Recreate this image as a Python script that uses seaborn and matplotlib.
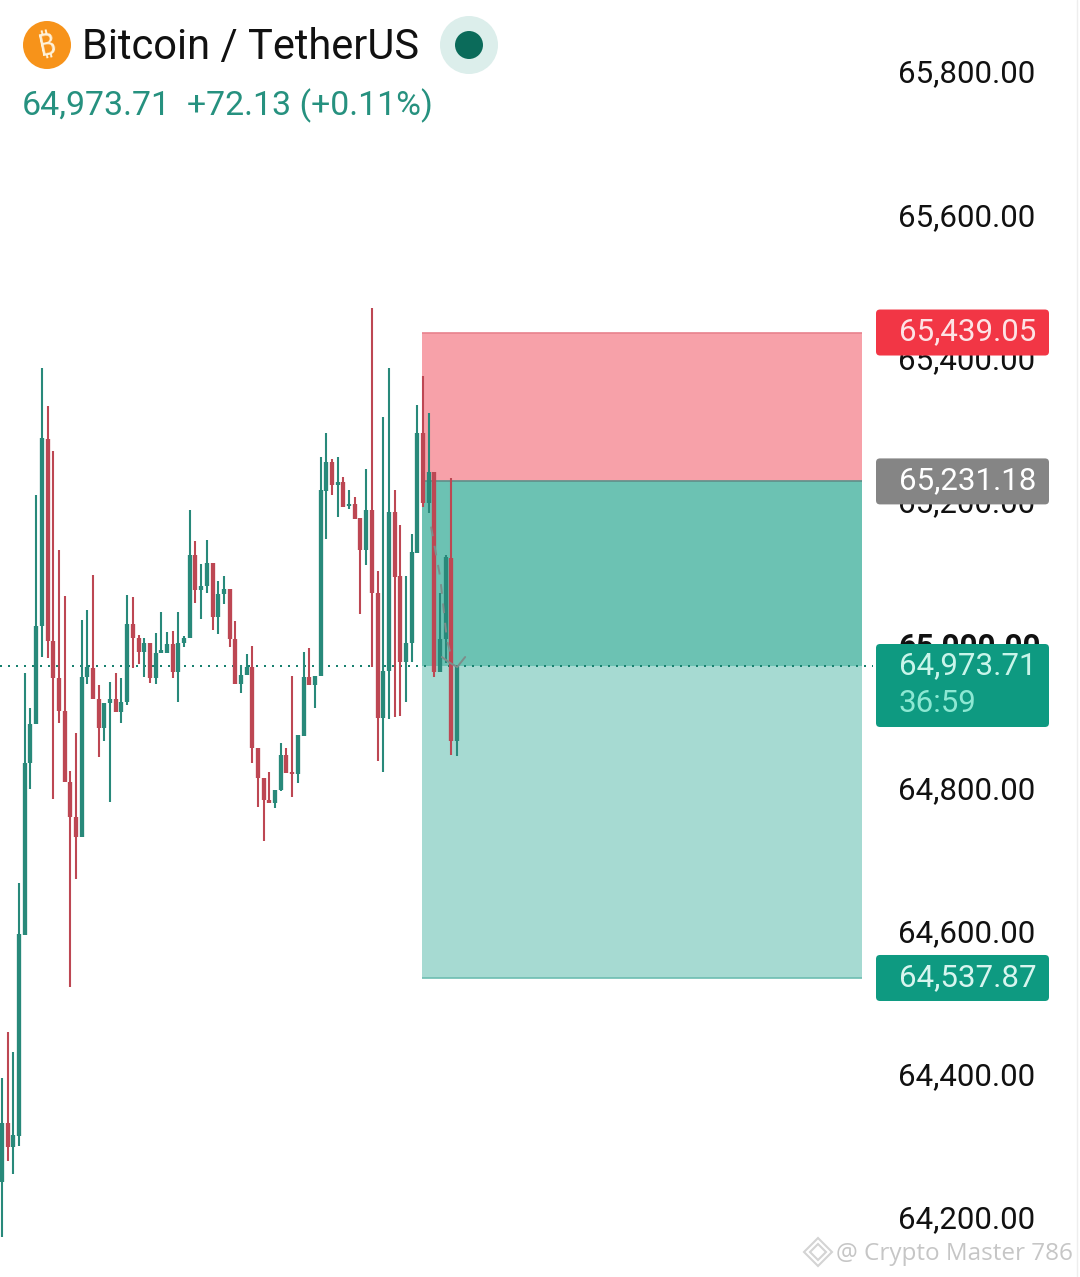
import pandas as pd
import numpy as np
import matplotlib
matplotlib.use('Agg')
import matplotlib.pyplot as plt
from matplotlib.patches import Rectangle, Circle, FancyBboxPatch, RegularPolygon
from matplotlib.transforms import IdentityTransform
import seaborn as sns

opens = [64253, 64336, 64302, 64317, 64598, 64838, 64893, 65029, 65291, 65009, 64957,
         64911, 64812, 64763, 64735, 64958, 64971, 64928, 64887, 64922, 64928, 64909,
         64923, 65032, 65013, 64993, 65006, 64957, 64992, 64992, 65004, 64965, 65006,
         65013, 65129, 65080, 65085, 65117, 65042, 65074, 65081, 65011, 64949, 64961,
         64972, 64859, 64817, 64787, 64782, 64801, 64849, 64826, 64822, 64876, 64958,
         64947, 64960, 65218, 65258, 65226, 65231, 65197, 65200, 65180, 65136, 65191,
         65076, 64901, 64967, 65189, 65099, 64979, 65006, 65131, 65299, 65201, 65245,
         64965, 65011, 65124, 64869]
highs = [64398, 64463, 64435, 64671, 64964, 64915, 65212, 65390, 65337, 65274, 65136,
         65071, 64827, 64880, 65038, 65052, 65101, 64947, 64922, 64951, 64964, 64957,
         65073, 65070, 65017, 65013, 65006, 65020, 65049, 65021, 65023, 65049, 65016,
         65191, 65148, 65116, 65150, 65117, 65092, 65099, 65081, 65036, 64975, 64990,
         65002, 64859, 64817, 64826, 64801, 64866, 64859, 64960, 64877, 64993, 64999,
         64960, 65265, 65299, 65263, 65265, 65238, 65219, 65210, 65180, 65249, 65473,
         65106, 65321, 65390, 65219, 65171, 65099, 65158, 65338, 65379, 65327, 65245,
         65076, 65129, 65236, 64973.71]
lows = [64176, 64283, 64264, 64303, 64598, 64802, 64893, 64986, 64985, 64788, 64894,
        64812, 64525, 64676, 64735, 64949, 64928, 64847, 64869, 64784, 64909, 64894,
        64919, 64971, 64976, 64958, 64950, 64949, 64992, 64992, 64957, 64923, 65000,
        65013, 65062, 65039, 65076, 65024, 65018, 65060, 65000, 64949, 64936, 64961,
        64838, 64777, 64729, 64782, 64775, 64799, 64824, 64791, 64810, 64876, 64947,
        64915, 64960, 65151, 65212, 65182, 65196, 65193, 65179, 65046, 65115, 64972,
        64841, 64826, 64900, 64902, 64904, 64923, 64979, 65131, 65196, 65187, 64958,
        64965, 64978, 64849, 64848]
closes = [64336, 64302, 64319, 64599, 64838, 64893, 65029, 65292, 65009, 64957, 64911,
          64812, 64763, 64735, 64958, 64972, 64928, 64887, 64922, 64928, 64909, 64923,
          65032, 65013, 64993, 65006, 64957, 64992, 64996, 65004, 64965, 65006, 65013,
          65129, 65080, 65085, 65117, 65042, 65074, 65081, 65011, 64949, 64961, 64972,
          64859, 64817, 64787, 64782, 64801, 64849, 64824, 64822, 64877, 64958, 64947,
          64960, 65219, 65258, 65226, 65231, 65196, 65200, 65179, 65136, 65191, 65076,
          64901, 64967, 65189, 65098, 64979, 65006, 65133, 65299, 65201, 65245, 64965,
          65011, 65126, 64869, 64973.71]

stop_price = 65439.05
entry_price = 65231.18
target_price = 64537.87
last_price = 64973.71
box_start = 73.8
box_end = 151.1

path_x = [75.4, 77.0, 78.2, 79.1]
path_y = [65168, 65098, 65010, 64982]
tip_x = [77.3, 78.7, 80.0, 81.4]
tip_y = [64986, 64978, 64972, 64986]

price_ticks = [65800, 65600, 65400, 65200, 65000, 64800, 64600, 64400, 64200]

GREEN = '#28897a'
RED = '#bd4753'
W, H = 1080, 1277

sns.set_theme(style='white')
plt.rcParams['font.family'] = ['Roboto', 'DejaVu Sans']

df = pd.DataFrame({'i': range(len(opens)), 'open': opens, 'high': highs, 'low': lows, 'close': closes})
df['side'] = np.where(df['close'] >= df['open'], 'up', 'down')
wicks = df.melt(id_vars=['i', 'side'], value_vars=['high', 'low'], value_name='price')
bodies = df.melt(id_vars=['i', 'side'], value_vars=['open', 'close'], value_name='price')
colors = {'up': GREEN, 'down': RED}

fig = plt.figure(figsize=(W / 100, H / 100), dpi=100, facecolor='white')
ax = fig.add_axes([0, 0, 1, 1])
ax.set_xlim(-0.351, 189.46)
ax.set_ylim(64120.4, 65903.3)

# trade box
ax.add_patch(Rectangle((box_start, entry_price), box_end - box_start, stop_price - entry_price,
                       fc='#f7a1a9', ec='none', zorder=1))
ax.add_patch(Rectangle((box_start, last_price), box_end - box_start, entry_price - last_price,
                       fc='#6cc2b3', ec='none', zorder=1))
ax.add_patch(Rectangle((box_start, target_price), box_end - box_start, last_price - target_price,
                       fc='#a6dad2', ec='none', zorder=1))
ax.hlines(stop_price, box_start, box_end, color='#e8828d', lw=1.2, zorder=2)
ax.hlines(entry_price, box_start, box_end, color='#5f8f8a', lw=1.2, zorder=2)
ax.hlines(target_price, box_start, box_end, color='#6dbdb1', lw=1.2, zorder=2)

ax.hlines(last_price, -0.351, 153, color='#17806f', lw=1.44, linestyles=(0, (1, 3)), zorder=2.5)

sns.lineplot(data=wicks, x='i', y='price', hue='side', units='i', estimator=None, palette=colors,
             linewidth=1.5, legend=False, ax=ax, zorder=3, solid_capstyle='butt')
sns.lineplot(data=bodies, x='i', y='price', hue='side', units='i', estimator=None, palette=colors,
             linewidth=3.1, legend=False, ax=ax, zorder=3.5, solid_capstyle='butt')

ax.plot(path_x, path_y, color='#7d8d8a', lw=1.4, ls=(0, (5, 5)), zorder=4)
ax.plot(tip_x, tip_y, color='#7d8d8a', lw=1.4, zorder=4)

ax.set_xlabel('')
ax.set_ylabel('')
ax.set_xticks([])
ax.set_yticks(price_ticks)
ax.set_yticklabels([f'{p:,.2f}' for p in price_ticks], fontsize=22.5, color='#111111', va='center')
ax.yaxis.tick_right()
ax.tick_params(axis='y', length=0, pad=-131)
for lab, p in zip(ax.get_yticklabels(), price_ticks):
    if p == 65000:
        lab.set_fontweight('bold')
for s in ax.spines.values():
    s.set_visible(False)
ax.axvline(188.9, color='#eeeeee', lw=1, zorder=0)


def price_px(p):
    return ax.transData.transform((0, p))[1]


def badge(top, bottom, color):
    box = FancyBboxPatch((876 + 3, top + 3), 173 - 6, bottom - top - 6, boxstyle='round,pad=3,rounding_size=4',
                         fc=color, ec='none', transform=IdentityTransform(), zorder=6)
    ax.add_artist(box)


def tag(y_center, color, label, txt_color='white'):
    yc = price_px(y_center)
    badge(yc - 23, yc + 23, color)
    ax.text(899 / W, (yc + 0.5) / H, label, transform=fig.transFigure, ha='left', va='center',
            fontsize=22.5, color=txt_color, zorder=7)


tag(stop_price, '#f23645', '65,439.05', '#fde3e5')
tag(entry_price, '#858585', '65,231.18')
tag(target_price, '#0e9a81', '64,537.87', '#d8f5ef')

badge(H - 727, H - 644, '#0e9a81')
ax.text(899 / W, 1 - 666 / H, '64,973.71', transform=fig.transFigure, va='center', fontsize=22.5,
        color='#c9f5ea', zorder=7)
ax.text(899 / W, 1 - 703 / H, '36:59', transform=fig.transFigure, va='center', fontsize=22.5,
        color='#8de8d3', zorder=7)

# header
fig.add_artist(Circle((47, H - 45), 24, fc='#f7931a', ec='none', transform=IdentityTransform()))
fig.text(47 / W, 1 - 46 / H, '\u20bf', color='#fff3dc', fontsize=22, fontweight='bold', rotation=12,
         ha='center', va='center', family=['Noto Sans', 'Inter', 'Open Sans', 'Lato', 'Liberation Sans'])
fig.text(82 / W, 1 - 47 / H, 'Bitcoin / TetherUS', color='#111111', fontsize=30, va='center')
fig.add_artist(Circle((469, H - 45), 29, fc='#dceeeb', ec='none', transform=IdentityTransform()))
fig.add_artist(Circle((469, H - 45), 14, fc='#0b6b5a', ec='none', transform=IdentityTransform()))
fig.text(22 / W, 1 - 106 / H, '64,973.71', color='#26917f', fontsize=24.4, va='center')
fig.text(187 / W, 1 - 106 / H, '+72.13 (+0.11%)', color='#26917f', fontsize=24.4, va='center')

# watermark
for r in [14, 8]:
    fig.add_artist(RegularPolygon((818, H - 1252), 4, radius=r, fc='none', ec='#d4d4d4', lw=1.5,
                                  transform=IdentityTransform()))
fig.text(836 / W, 1 - 1254 / H, '@ Crypto Master 786', color='#c6c6c6', fontsize=17.5, va='center',
         family=['Open Sans', 'DejaVu Sans'])

fig.savefig('out.png', dpi=100)
